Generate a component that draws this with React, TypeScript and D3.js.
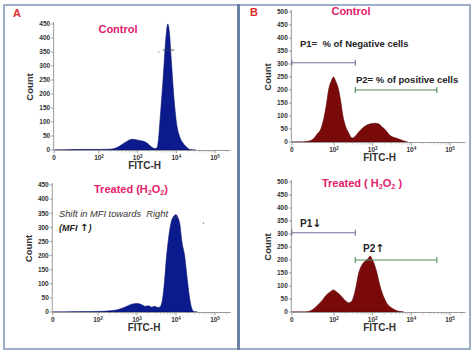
import React from "react";
import * as d3 from "d3";

// histogram points: [decade position on the biexponential axis, count]
const controlA: [number, number][] = [
  [0.84, 0], [1.2, 1], [1.6, 2], [2.0, 2], [2.3, 3], [2.45, 8], [2.6, 20], [2.75, 33],
  [2.85, 38], [2.95, 37], [3.05, 34], [3.15, 31], [3.25, 24], [3.35, 12], [3.45, 5],
  [3.5, 8], [3.54, 40], [3.58, 110], [3.63, 200], [3.68, 300], [3.73, 400], [3.78, 450],
  [3.82, 420], [3.87, 320], [3.93, 200], [4.0, 100], [4.08, 50], [4.17, 25], [4.27, 10],
  [4.35, 2], [4.5, 0],
];
const treatedA: [number, number][] = [
  [0.84, 0], [1.5, 1], [2.0, 2], [2.3, 4], [2.5, 8], [2.7, 18], [2.85, 27], [3.0, 30],
  [3.12, 26], [3.22, 20], [3.3, 22], [3.37, 17], [3.46, 20], [3.52, 16], [3.58, 17],
  [3.62, 25], [3.66, 50], [3.7, 100], [3.76, 200], [3.8, 250], [3.85, 300], [3.92, 335],
  [4.0, 345], [4.05, 335], [4.1, 310], [4.15, 250], [4.22, 200], [4.27, 140], [4.31, 90],
  [4.36, 40], [4.4, 15], [4.45, 2], [4.55, 0],
];
const controlB: [number, number][] = [
  [0.91, 0], [1.2, 0], [1.3, 2], [1.45, 10], [1.56, 30], [1.66, 50], [1.75, 100],
  [1.81, 150], [1.86, 200], [1.93, 235], [1.99, 250], [2.04, 235], [2.12, 200], [2.18, 150],
  [2.23, 100], [2.3, 60], [2.38, 35], [2.47, 15], [2.55, 22], [2.65, 40], [2.75, 55],
  [2.85, 65], [2.95, 70], [3.05, 72], [3.15, 70], [3.23, 60], [3.32, 48], [3.45, 25],
  [3.62, 14], [3.79, 5], [3.9, 0],
];
const treatedB: [number, number][] = [
  [0.91, 0], [1.26, 0], [1.4, 5], [1.5, 15], [1.6, 30], [1.7, 45], [1.78, 62], [1.88, 75],
  [1.99, 85], [2.06, 78], [2.14, 68], [2.25, 50], [2.32, 40], [2.38, 35], [2.45, 40],
  [2.5, 55], [2.56, 90], [2.64, 150], [2.72, 180], [2.8, 195], [2.88, 205], [2.94, 215],
  [2.98, 205], [3.04, 185], [3.11, 150], [3.19, 100], [3.28, 60], [3.36, 35], [3.45, 20],
  [3.58, 8], [3.7, 2], [3.8, 0],
];

const xTickDecades = [2, 3, 4, 5];
const xTickExp = ["2", "3", "4", "5"];
const yTicksA = [0, 50, 100, 150, 200, 250, 300, 350, 400, 450];
const yTicksB = [0, 50, 100, 150, 200, 250, 300, 350, 400, 450, 500];

// gates in panel B: [from decade, to decade, count level]
const gateP1: [number, number, number] = [0.91, 2.55, 305];
const gateP2: [number, number, number] = [2.55, 4.66, 200];

const titleColor = "#e2206c";
const textColor = "#333";
const arrowFont = "'DejaVu Sans', sans-serif";

type HistProps = {
  data: [number, number][];
  x2: number;
  x5: number;
  yBase: number;
  yTop: number;
  yMax: number;
  yTicks: number[];
  zero: number;
  fill: string;
  stroke: string;
  children?: (x: d3.ScaleLinear<number, number>, y: d3.ScaleLinear<number, number>) => React.ReactNode;
};

function Histogram({ data, x2, x5, yBase, yTop, yMax, yTicks, zero, fill, stroke, children }: HistProps) {
  const x = d3.scaleLinear().domain([2, 5]).range([x2, x5]);
  const y = d3.scaleLinear().domain([0, yMax]).range([yBase, yTop]);
  const area = d3
    .area<[number, number]>()
    .x(d => x(d[0]))
    .y0(y(0))
    .y1(d => y(d[1]))
    .curve(d3.curveMonotoneX);
  const xStart = x(zero);
  const xEnd = x(5.4);
  const minor: number[] = [];
  for (let dec = 2; dec < 5.4; dec++) {
    for (let m = 2; m < 10; m++) {
      const v = dec + Math.log10(m);
      if (v < 5.4) minor.push(v);
    }
  }
  return (
    <g>
      <path d={area(data) || ""} fill={fill} stroke={stroke} strokeWidth={0.6} />
      {/* y axis */}
      <line x1={xStart - 0.5} x2={xStart - 0.5} y1={yBase} y2={y(yMax) - 2} stroke="#999" strokeWidth={1} />
      {yTicks.map(t => (
        <g key={t}>
          <line x1={xStart - 3} x2={xStart - 0.5} y1={y(t)} y2={y(t)} stroke="#888" strokeWidth={0.8} />
          <text x={xStart - 4} y={y(t) + 2.3} fontSize={6.5} fontWeight="bold" textAnchor="end" fill={textColor}>
            {t}
          </text>
        </g>
      ))}
      {/* x axis */}
      <line x1={xStart} x2={xEnd} y1={yBase + 0.5} y2={yBase + 0.5} stroke="#999" strokeWidth={1} />
      {minor.map(v => (
        <line key={v} x1={x(v)} x2={x(v)} y1={yBase + 0.5} y2={yBase + 2.5} stroke="#aaa" strokeWidth={0.6} />
      ))}
      <line x1={xStart} x2={xStart} y1={yBase} y2={yBase + 3.5} stroke="#888" strokeWidth={0.8} />
      <text x={xStart} y={yBase + 10} fontSize={6.5} fontWeight="bold" textAnchor="middle" fill={textColor}>0</text>
      {xTickDecades.map((v, i) => (
        <g key={v}>
          <line x1={x(v)} x2={x(v)} y1={yBase} y2={yBase + 3.5} stroke="#888" strokeWidth={0.8} />
          <text x={x(v)} y={yBase + 10} fontSize={6.5} fontWeight="bold" textAnchor="middle" fill={textColor}>
            10<tspan fontSize={4.5} dy={-2.5}>{xTickExp[i]}</tspan>
          </text>
        </g>
      ))}
      <text x={x(3.18)} y={yBase + 19} fontSize={10} fontWeight="bold" textAnchor="middle" fill={textColor}>
        FITC-H
      </text>
      <text
        transform={`translate(${xStart - 21},${(yBase + y(yMax)) / 2}) rotate(-90)`}
        fontSize={9.5}
        fontWeight="bold"
        textAnchor="middle"
        fill={textColor}
      >
        Count
      </text>
      {children && children(x, y)}
    </g>
  );
}

function Gate({ x, y, gate, color }: { x: d3.ScaleLinear<number, number>; y: d3.ScaleLinear<number, number>; gate: [number, number, number]; color: string }) {
  const [a, b, c] = gate;
  return (
    <g stroke={color} strokeWidth={1.1}>
      <line x1={x(a)} x2={x(b)} y1={y(c)} y2={y(c)} />
      <line x1={x(a)} x2={x(a)} y1={y(c) - 3} y2={y(c) + 3} />
      <line x1={x(b)} x2={x(b)} y1={y(c) - 3} y2={y(c) + 3} />
    </g>
  );
}

function Treated({ x, y, size, pad }: { x: number; y: number; size: number; pad: string }) {
  return (
    <text x={x} y={y} fontSize={size} fontWeight="bold" fill={titleColor} textAnchor="middle" xmlSpace="preserve">
      {`Treated (${pad}H`}<tspan fontSize={size * 0.65} dy={2}>2</tspan>
      <tspan dy={-2}>O</tspan>
      <tspan fontSize={size * 0.65} dy={2}>2</tspan>
      <tspan dy={-2}>{`${pad})`}</tspan>
    </text>
  );
}

export default function App() {
  const blue = "#0b1a8c";
  const red = "#7a0a0a";
  return (
    <svg
      width={474}
      height={351}
      style={{ position: "absolute", left: 0, top: 0, background: "#fff" }}
      fontFamily="'Liberation Sans', Arial, sans-serif"
    >
      <rect x={4} y={5} width={234} height={344} fill="none" stroke="#7d94b4" strokeWidth={1.5} />
      <rect x={238.5} y={5} width={231.5} height={344} fill="none" stroke="#7d94b4" strokeWidth={1.5} />
      <line x1={238.5} x2={238.5} y1={4} y2={350} stroke="#6a82a4" strokeWidth={3} />

      <text x={13} y={17} fontSize={11} fontWeight="bold" fill="#e02a2a">A</text>
      <text x={250} y={16} fontSize={11} fontWeight="bold" fill="#e02a2a">B</text>

      {/* panel A control */}
      <Histogram data={controlA} x2={99} x5={215} yBase={150} yTop={24} yMax={450} yTicks={yTicksA} zero={0.84} fill={blue} stroke="#0a1470">
        {(x, y) => (
          <g>
            <line x1={x(3.65)} x2={x(3.95)} y1={y(357)} y2={y(357)} stroke="#444" strokeWidth={0.8} />
            <circle cx={x(3.55)} cy={y(350)} r={0.6} fill="#444" />
          </g>
        )}
      </Histogram>
      <text x={118} y={33} fontSize={11} fontWeight="bold" fill={titleColor} textAnchor="middle">Control</text>

      {/* panel A treated */}
      <Histogram data={treatedA} x2={98} x5={215} yBase={312} yTop={185} yMax={450} yTicks={yTicksA} zero={0.84} fill={blue} stroke="#0a1470">
        {(x, y) => (
          <g>
            <line x1={x(3.92)} x2={x(4.05)} y1={y(334)} y2={y(334)} stroke="#444" strokeWidth={0.8} />
            <circle cx={x(4.7)} cy={y(315)} r={0.6} fill="#444" />
          </g>
        )}
      </Histogram>
      <Treated x={131} y={193} size={11} pad="" />
      <text x={59} y={216.5} fontSize={9.3} fontStyle="italic" fill={textColor} xmlSpace="preserve">Shift in MFI towards  Right</text>
      <text x={59} y={230.5} fontSize={9} fontStyle="italic" fontWeight="bold" fill="#222">
        (MFI <tspan fontFamily={arrowFont} fontStyle="normal" fontSize={10}>↑</tspan>)
      </text>

      {/* panel B control */}
      <Histogram data={controlB} x2={334} x5={450} yBase={142} yTop={12} yMax={500} yTicks={yTicksB} zero={0.91} fill={red} stroke="#560000">
        {(x, y) => (
          <g>
            <Gate x={x} y={y} gate={gateP1} color="#7d6a9e" />
            <Gate x={x} y={y} gate={gateP2} color="#4f8a5a" />
          </g>
        )}
      </Histogram>
      <text x={351} y={15} fontSize={11} fontWeight="bold" fill={titleColor} textAnchor="middle">Control</text>
      <text x={300} y={47} fontSize={9.5} fontWeight="bold" fill="#222" xmlSpace="preserve">P1=  % of Negative cells</text>
      <text x={356} y={83} fontSize={9.5} fontWeight="bold" fill="#222">P2= % of positive cells</text>

      {/* panel B treated */}
      <Histogram data={treatedB} x2={334} x5={450} yBase={312} yTop={182} yMax={500} yTicks={yTicksB} zero={0.91} fill={red} stroke="#560000">
        {(x, y) => (
          <g>
            <Gate x={x} y={y} gate={gateP1} color="#7d6a9e" />
            <Gate x={x} y={y} gate={gateP2} color="#4f8a5a" />
          </g>
        )}
      </Histogram>
      <Treated x={362} y={187} size={11} pad=" " />
      <text x={300} y={226.5} fontSize={10} fontWeight="bold" fill="#222">
        P1<tspan fontFamily={arrowFont} fontSize={11}>↓</tspan>
      </text>
      <text x={363} y={251.5} fontSize={10} fontWeight="bold" fill="#222">
        P2<tspan fontFamily={arrowFont} fontSize={11}>↑</tspan>
      </text>
    </svg>
  );
}
